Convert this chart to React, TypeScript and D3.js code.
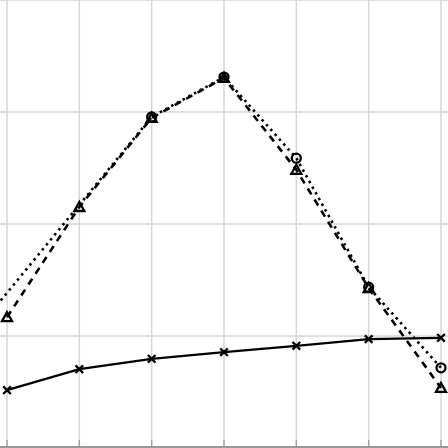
import React from "react";
import * as d3 from "d3";

const W = 448;
const H = 448;

// x positions as category indices (the view shows indices 0..6; circle series starts off-view)
const xIndex = [0, 1, 2, 3, 4, 5, 6];
const solidValues = [12.9, 17.6, 19.9, 21.4, 22.8, 24.3, 24.6];
const triangleValues = [29.2, 53.8, 73.7, 82.6, 62.1, 35.7, 13.4];
const circleIndex = [-1, 2, 3, 4, 5, 6];
const circleValues = [15.0, 73.9, 82.8, 64.7, 35.9, 17.9];
const gridX = [-1, 0, 1, 2, 3, 4, 5, 6, 7];
const gridY = [25, 50, 75, 100];

export default function App() {
  const x = d3.scaleLinear().domain([0, 6]).range([7, 441]);
  const y = d3.scaleLinear().domain([0, 100]).range([448, 0]);
  const line = d3
    .line<[number, number]>()
    .x((d) => x(d[0]))
    .y((d) => y(d[1]));

  const solidPts: [number, number][] = xIndex.map((i, k) => [i, solidValues[k]]);
  const triPts: [number, number][] = xIndex.map((i, k) => [i, triangleValues[k]]);
  const circPts: [number, number][] = circleIndex.map((i, k) => [i, circleValues[k]]);

  const tri = (cx: number, cy: number) => {
    const s = 5;
    return `M${cx},${cy - s}L${cx + s},${cy + s * 0.8}L${cx - s},${cy + s * 0.8}Z`;
  };

  return (
    <div style={{ position: "fixed", left: 0, top: 0, width: W, height: H, background: "#fff" }}>
      <svg width={W} height={H} style={{ display: "block" }}>
        <rect width={W} height={H} fill="#fff" />
        {gridX.map((g) => (
          <line key={"gx" + g} x1={x(g)} x2={x(g)} y1={0} y2={H} stroke="#d6d6d6" strokeWidth={1.5} />
        ))}
        {gridY.map((g) => (
          <line key={"gy" + g} x1={0} x2={W} y1={y(g)} y2={y(g)} stroke="#d6d6d6" strokeWidth={1.5} />
        ))}
        <line x1={0} x2={W} y1={447} y2={447} stroke="#9a9a9a" strokeWidth={2} />
        {gridX.map((g) => (
          <line key={"t" + g} x1={x(g)} x2={x(g)} y1={440} y2={447} stroke="#9a9a9a" strokeWidth={1.2} />
        ))}

        <path d={line(solidPts) || ""} fill="none" stroke="#000" strokeWidth={2.3} />
        <path d={line(triPts) || ""} fill="none" stroke="#000" strokeWidth={2.6} strokeDasharray="7,6" />
        <path d={line(circPts) || ""} fill="none" stroke="#000" strokeWidth={2.6} strokeDasharray="2.5,4" />

        {solidPts.map((p, k) => {
          const cx = x(p[0]);
          const cy = y(p[1]);
          const s = 3.8;
          return (
            <path
              key={"sx" + k}
              d={`M${cx - s},${cy - s}L${cx + s},${cy + s}M${cx - s},${cy + s}L${cx + s},${cy - s}`}
              stroke="#000"
              strokeWidth={2.3}
            />
          );
        })}
        {triPts.map((p, k) => (
          <path key={"tr" + k} d={tri(x(p[0]), y(p[1]))} fill="none" stroke="#000" strokeWidth={2.3} />
        ))}
        {circPts.map((p, k) => (
          <circle key={"ci" + k} cx={x(p[0])} cy={y(p[1])} r={4.5} fill="none" stroke="#000" strokeWidth={2.3} />
        ))}
      </svg>
    </div>
  );
}
